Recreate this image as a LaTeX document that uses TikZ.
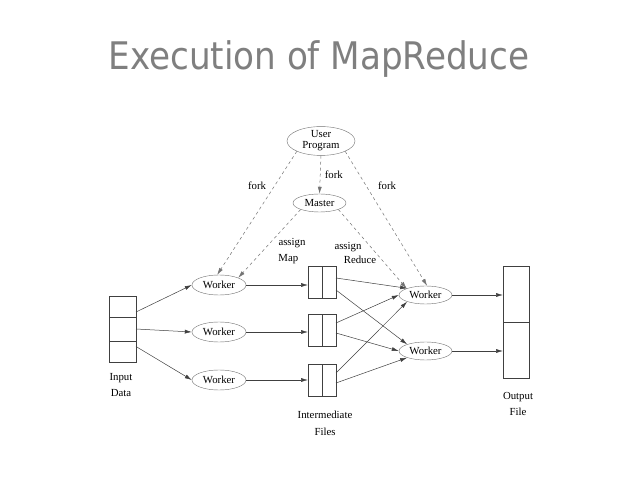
\documentclass[tikz,border=0pt]{standalone}
\usepackage{fontspec}
\setmainfont{Liberation Serif}
\newfontfamily\titlefont{DejaVu Sans Condensed}
\usetikzlibrary{shapes.geometric,arrows.meta,positioning}
\definecolor{titlegray}{HTML}{7F7F7F}

\begin{document}
\begin{tikzpicture}[x=1pt,y=-1pt,
        every node/.style={font=\fontsize{10.8}{12}\selectfont},
        proc/.style={ellipse,draw=black!55,inner sep=0pt,minimum width=54pt,minimum height=20pt},
        cell/.style={rectangle,draw=black!75,inner sep=0pt,outer sep=0pt,node distance=0pt},
        flow/.style={draw=black!75,line width=0.5pt,-{Latex[length=7pt,width=4pt]}},
        ctrl/.style={flow,draw=black!55,dashed}]
   \useasboundingbox[fill=white] (0,0) rectangle (638,478);
   \node (title) [anchor=base,font=\titlefont\fontsize{38}{40}\selectfont,text=titlegray] at (319,70) {Execution of MapReduce};

   % user program and master
   \node (user) [proc,minimum width=68pt,minimum height=26pt,align=center,font=\fontsize{10.8}{11}\selectfont] at (321,141) {User\\Program};
   \node (master) [proc,minimum width=53pt,minimum height=18pt] at (319.5,203) {Master};

   % workers
   \node (m1) [proc] at (219,285) {Worker};
   \node (m2) [proc] at (219,332) {Worker};
   \node (m3) [proc] at (219,380) {Worker};
   \node (r1) [proc,minimum width=53pt,minimum height=18pt] at (425.5,295) {Worker};
   \node (r2) [proc,minimum width=53pt,minimum height=18pt] at (425.5,351) {Worker};

   % input data
   \node (in1) [cell,minimum width=27pt,minimum height=21.5pt] at (122.5,306.5) {};
   \node (in2) [cell,minimum width=27pt,minimum height=23.5pt,below=of in1] {};
   \node (in3) [cell,minimum width=27pt,minimum height=21.5pt,below=of in2] {};
   \node (inlabel) [align=center] at (121,385) {Input\\[4pt]Data};

   % intermediate files
   \foreach \n/\y in {1/282,2/330.5,3/380.5} {
      \node (f\n a) [cell,minimum width=14pt,minimum height=32pt] at (315,\y) {};
      \node (f\n b) [cell,minimum width=14pt,minimum height=32pt,right=of f\n a] {};
   }
   \node (flabel) [align=center] at (325,423.5) {Intermediate\\[5pt]Files};

   % output file
   \node (o1) [cell,minimum width=26pt,minimum height=56pt] at (516,294) {};
   \node (o2) [cell,minimum width=26pt,minimum height=56pt,below=of o1] {};
   \node (olabel) [align=center] at (518,404) {Output\\[4pt]File};

   % control
   \draw[ctrl] (user.south) -- node[right=1pt] {fork} (master.north);
   \draw[ctrl] (user.south west) -- (m1.100);
   \draw[ctrl] (user.south east) -- (r1.80);
   \draw[ctrl] (master.south west) -- (m1.north east);
   \draw[ctrl] (master.south east) -- (r1.north west);
   \node (fork1) at (257,186) {fork};
   \node (fork2) at (387,186) {fork};
   \node (amap1) at (292,243) {assign};
   \node (amap2) [below=0pt of amap1.south west,anchor=north west,inner xsep=0pt,xshift=3.3pt] {Map};
   \node (ared1) at (348,247) {assign};
   \node (ared2) at (360,260) {Reduce};

   % data flow
   \draw[flow] ([yshift=-5.5pt]in1.east) -- (m1.west);
   \draw[flow] (in2.east) -- (m2.west);
   \draw[flow] ([yshift=5pt]in3.east) -- (m3.west);
   \draw[flow] (m1.east) -- (m1.east -| f1a.west);
   \draw[flow] (m2.east) -- (m2.east -| f2a.west);
   \draw[flow] (m3.east) -- (m3.east -| f3a.west);
   \draw[flow] ([yshift=4pt]f1b.east) -- (r1.160);
   \draw[flow] ([yshift=-8pt]f1b.east) -- (r2.160);
   \draw[flow] ([yshift=7.5pt]f2b.east) -- (r1.west);
   \draw[flow] ([yshift=-2.5pt]f2b.east) -- (r2.west);
   \draw[flow] ([yshift=7.5pt]f3b.east) -- (r1.200);
   \draw[flow] ([yshift=-2.5pt]f3b.east) -- (r2.200);
   \draw[flow] (r1.east) -- (r1.east -| o1.west);
   \draw[flow] (r2.east) -- (r2.east -| o2.west);
\end{tikzpicture}
\end{document}
